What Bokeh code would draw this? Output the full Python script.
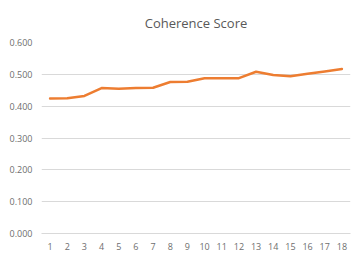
from bokeh.plotting import figure
from bokeh.models import Range1d, FixedTicker, NumeralTickFormatter
from bokeh.embed import file_html
from bokeh.resources import INLINE

topics = ["1", "2", "3", "4", "5", "6", "7", "8", "9", "10", "11", "12", "13", "14", "15", "16", "17", "18"]
coherence = [0.424, 0.425, 0.432, 0.457, 0.455, 0.457, 0.458, 0.476, 0.477, 0.488,
             0.488, 0.488, 0.508, 0.498, 0.494, 0.502, 0.509, 0.517]
y_ticks = [0.0, 0.1, 0.2, 0.3, 0.4, 0.5, 0.6]

p = figure(x_range=topics, y_range=Range1d(0, 0.6),
           width=363, height=260, output_backend="svg", toolbar_location=None,
           min_border_left=41, min_border_right=13, min_border_top=42, min_border_bottom=27,
           title="Coherence Score")
p.x_range.range_padding = 0

p.title.align = "center"
p.title.text_font = "Open Sans"
p.title.text_font_size = "13px"
p.title.text_font_style = "normal"
p.title.text_color = "#595959"
p.title.standoff = 22

p.line(topics, coherence, line_color="#ED7D31", line_width=2.5, line_join="round", line_cap="round")

p.yaxis.ticker = FixedTicker(ticks=y_ticks)
p.yaxis.formatter = NumeralTickFormatter(format="0.000")
for ax in (p.xaxis[0], p.yaxis[0]):
    ax.major_tick_line_color = None
    ax.minor_tick_line_color = None
    ax.major_label_text_font = "Open Sans"
    ax.major_label_text_font_size = "9px"
    ax.major_label_text_color = "#6E6E6E"
p.yaxis.axis_line_color = None
p.xaxis.axis_line_color = "#D9D9D9"
p.xaxis.major_label_standoff = 3
p.yaxis.major_label_standoff = 3

p.xgrid.grid_line_color = None
p.ygrid.grid_line_color = "#D9D9D9"
p.outline_line_color = None
p.border_fill_color = "white"
p.background_fill_color = "white"

open("out.html", "w").write(file_html(p, INLINE))
